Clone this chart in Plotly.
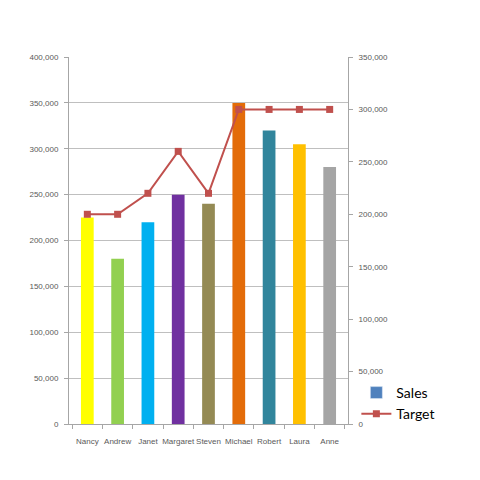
import plotly.graph_objects as go

# Data
names = ["Nancy", "Andrew", "Janet", "Margaret", "Steven", "Michael", "Robert", "Laura", "Anne"]
sales = [225000, 180000, 220000, 250000, 240000, 350000, 320000, 305000, 280000]
target = [200000, 200000, 220000, 260000, 220000, 300000, 300000, 300000, 300000]
bar_colors = ["#FFFF00", "#92D050", "#00B0F0", "#7030A0", "#948A54",
              "#E36C09", "#31859C", "#FFC000", "#A5A5A5"]

axis_font = dict(family="Liberation Sans", size=8, color="#595959")

fig = go.Figure()

# Sales bars (left axis)
fig.add_trace(go.Bar(x=names, y=sales, marker=dict(color=bar_colors, line=dict(width=0)),
                     width=0.42, showlegend=False, name="Sales"))
# legend entry for Sales (blue swatch as in the original)
fig.add_trace(go.Bar(x=[None], y=[None], name="Sales", marker=dict(color="#4F81BD")))

# Target line (right axis)
fig.add_trace(go.Scatter(x=names, y=target, mode="lines+markers", name="Target", yaxis="y2",
                         line=dict(color="#C0504D", width=2),
                         marker=dict(symbol="square", size=7, color="#C0504D")))

fig.update_layout(
    width=480, height=480,
    margin=dict(l=61, r=140, t=49, b=64),
    paper_bgcolor="white", plot_bgcolor="white",
    barmode="overlay",
    xaxis=dict(tickfont=axis_font, tickangle=0, automargin=False, ticklabelstandoff=9,
               showline=True, linecolor="#A6A6A6", linewidth=1,
               ticks="outside", ticklen=4, tickcolor="#A6A6A6", tickson="boundaries",
               showgrid=False),
    yaxis=dict(range=[0, 400000], dtick=50000, tickformat=",d", tickfont=axis_font,
               automargin=False, ticklabelstandoff=4,
               showgrid=True, gridcolor="#BFBFBF", gridwidth=1, showline=True,
               linecolor="#A6A6A6", ticks="outside", ticklen=4, tickcolor="#A6A6A6",
               zeroline=False),
    yaxis2=dict(range=[0, 350000], dtick=50000, tickformat=",d", tickfont=axis_font,
                automargin=False, ticklabelstandoff=4,
                overlaying="y", side="right", showgrid=False, showline=True,
                linecolor="#A6A6A6", ticks="outside", ticklen=4, tickcolor="#A6A6A6",
                zeroline=False),
    legend=dict(x=1.03, y=0.128, xanchor="left", yanchor="top",
                font=dict(family="Lato", size=14, color="black"),
                tracegroupgap=0, itemwidth=30, bgcolor="rgba(0,0,0,0)"),
)

fig.write_html("out.html")
